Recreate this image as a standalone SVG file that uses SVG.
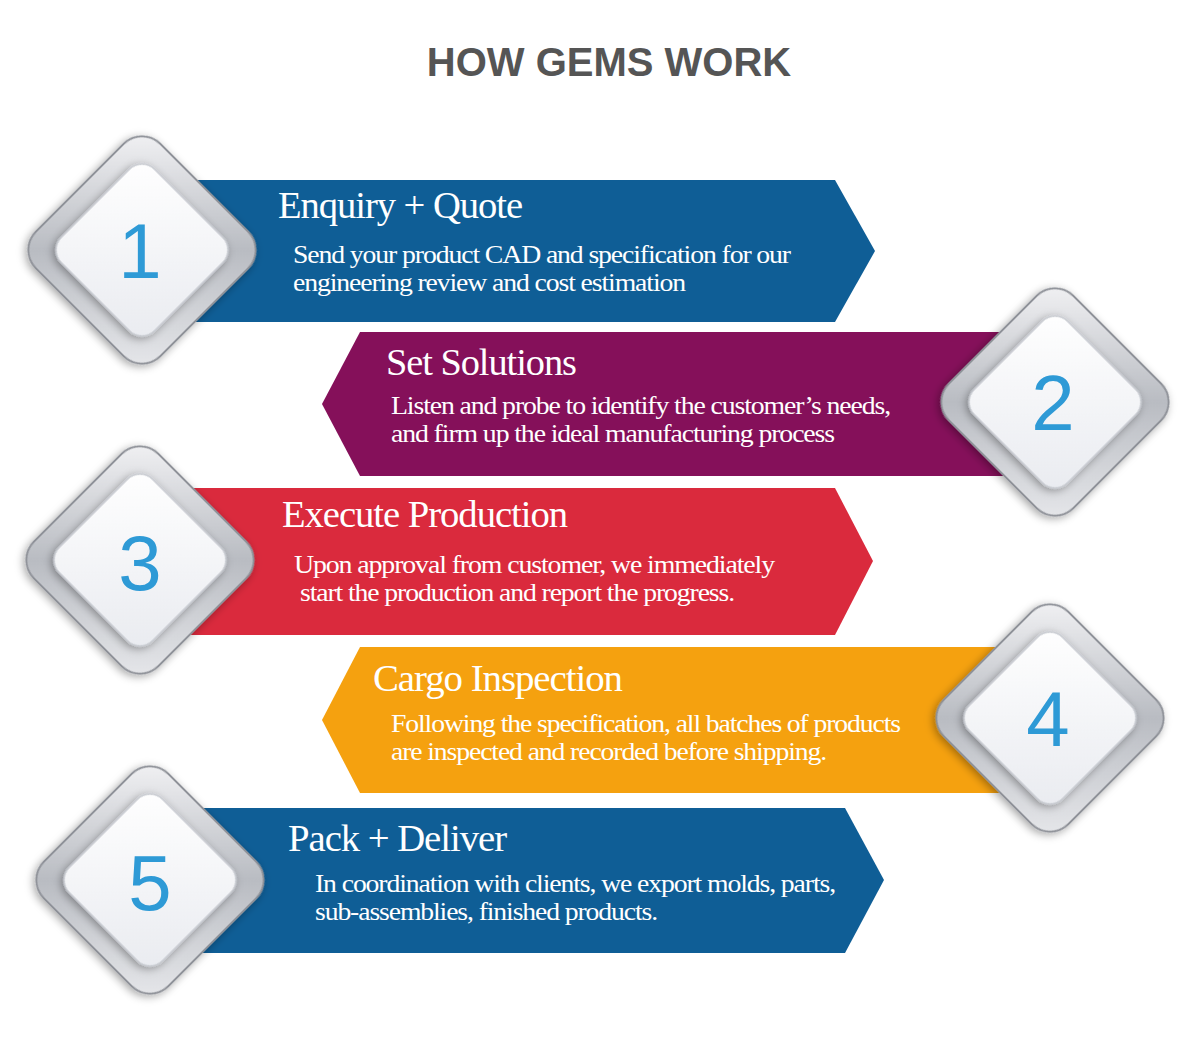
<svg xmlns="http://www.w3.org/2000/svg" width="1200" height="1044" viewBox="0 0 1200 1044">
<defs>
<linearGradient id="og" x1="0" y1="0" x2="1" y2="1"><stop offset="0" stop-color="#f4f4f6"/><stop offset="0.5" stop-color="#b9bcc2"/><stop offset="1" stop-color="#e8e9ec"/></linearGradient>
<linearGradient id="ig" x1="0" y1="0" x2="1" y2="1"><stop offset="0" stop-color="#ffffff"/><stop offset="1" stop-color="#e9ebf0"/></linearGradient>
<filter id="sh" x="-20%" y="-20%" width="140%" height="140%"><feDropShadow dx="0" dy="3" stdDeviation="4" flood-color="#000" flood-opacity="0.35"/></filter>
<g id="dia">
<rect x="-88" y="-88" width="176" height="176" rx="26" fill="url(#og)" stroke="#8e9198" stroke-width="2" transform="rotate(45)" filter="url(#sh)"/>
<rect x="-66" y="-66" width="132" height="132" rx="18" fill="url(#ig)" stroke="#c9ccd2" stroke-width="1.5" transform="rotate(45)" filter="url(#sh)"/>
</g>
</defs>
<style>
.t{font-family:"Liberation Serif",serif;fill:#fff;font-size:37px;letter-spacing:-1px}
.b{font-family:"Liberation Serif",serif;fill:#fff;font-size:25px;letter-spacing:-1px}
.n{font-family:"Liberation Sans",sans-serif;fill:#2e9ad6;font-size:78px;text-anchor:middle}
</style>
<rect width="1200" height="1044" fill="#fff"/>
<text x="609" y="76" text-anchor="middle" font-family="Liberation Sans,sans-serif" font-weight="bold" font-size="40" fill="#555">HOW GEMS WORK</text>
<g id="connectors"/>
<g id="step1">
<polygon points="190,180 835,180 875,251 835,322 190,322" fill="#0f5e96"/>
<use href="#dia" x="142" y="250"/>
<text class="n" x="140" y="278">1</text>
<text class="t" x="278" y="218" textLength="244" lengthAdjust="spacingAndGlyphs">Enquiry + Quote</text>
<text class="b" x="293" y="263" textLength="497" lengthAdjust="spacingAndGlyphs">Send your product CAD and specification for our</text>
<text class="b" x="293" y="291" textLength="392" lengthAdjust="spacingAndGlyphs">engineering review and cost estimation</text>
</g>
<g id="step2">
<polygon points="360,332 1040,332 1040,476 360,476 322,404" fill="#85105a"/>
<use href="#dia" x="1055" y="402"/>
<text class="n" x="1053" y="430">2</text>
<text class="t" x="386" y="375" textLength="190" lengthAdjust="spacingAndGlyphs">Set Solutions</text>
<text class="b" x="391" y="414" textLength="499" lengthAdjust="spacingAndGlyphs">Listen and probe to identify the customer’s needs,</text>
<text class="b" x="391" y="442" textLength="443" lengthAdjust="spacingAndGlyphs">and firm up the ideal manufacturing process</text>
</g>
<g id="step3">
<polygon points="190,488 835,488 873,561 835,635 190,635" fill="#da2a3d"/>
<use href="#dia" x="140" y="560"/>
<text class="n" x="140" y="590">3</text>
<text class="t" x="282" y="527" textLength="285" lengthAdjust="spacingAndGlyphs">Execute Production</text>
<text class="b" x="294" y="573" textLength="480" lengthAdjust="spacingAndGlyphs">Upon approval from customer, we immediately</text>
<text class="b" x="300" y="601" textLength="434" lengthAdjust="spacingAndGlyphs">start the production and report the progress.</text>
</g>
<g id="step4">
<polygon points="360,647 1040,647 1040,793 360,793 322,720" fill="#f5a10f"/>
<use href="#dia" x="1050" y="718"/>
<text class="n" x="1048" y="746">4</text>
<text class="t" x="373" y="691" textLength="249" lengthAdjust="spacingAndGlyphs">Cargo Inspection</text>
<text class="b" x="391" y="732" textLength="509" lengthAdjust="spacingAndGlyphs">Following the specification, all batches of products</text>
<text class="b" x="391" y="760" textLength="435" lengthAdjust="spacingAndGlyphs">are inspected and recorded before shipping.</text>
</g>
<g id="step5">
<polygon points="200,808 845,808 884,880 845,953 200,953" fill="#0f5e96"/>
<use href="#dia" x="150" y="880"/>
<text class="n" x="150" y="910">5</text>
<text class="t" x="288" y="851" textLength="218" lengthAdjust="spacingAndGlyphs">Pack + Deliver</text>
<text class="b" x="315" y="892" textLength="520" lengthAdjust="spacingAndGlyphs">In coordination with clients, we export molds, parts,</text>
<text class="b" x="315" y="920" textLength="342" lengthAdjust="spacingAndGlyphs">sub-assemblies, finished products.</text>
</g>
</svg>
